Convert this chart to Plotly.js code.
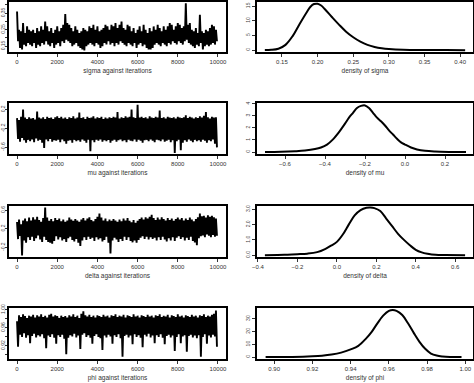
<!DOCTYPE html>
<html>
<head>
<meta charset="utf-8">
<script src="https://cdn.plot.ly/plotly-3.0.1.min.js"></script>
<style>html,body{margin:0;padding:0;background:#fff}#plot{width:474px;height:383px}</style>
</head>
<body>
<div id="plot"></div>
<script>
// ---- MCMC traces (one value every 50 iterations) ----
const iterStart = 0;
const iterStep = 50;
const sigmaTrace = [
0.36,0.18, 0.25,0.14, 0.24,0.13, 0.29,0.16, 0.23,0.15, 0.27,0.17, 0.25,0.16, 0.24,0.15, 0.25,0.17, 0.23,0.14,
0.26,0.16, 0.24,0.15, 0.27,0.17, 0.25,0.16, 0.30,0.18, 0.27,0.16, 0.24,0.15, 0.26,0.17, 0.23,0.14, 0.25,0.16,
0.27,0.17, 0.24,0.15, 0.26,0.18, 0.28,0.17, 0.345,0.19, 0.29,0.18, 0.28,0.17, 0.26,0.15, 0.24,0.16, 0.27,0.17,
0.25,0.15, 0.23,0.14, 0.24,0.13, 0.26,0.125, 0.25,0.15, 0.24,0.16, 0.27,0.17, 0.26,0.16, 0.28,0.15, 0.25,0.17,
0.27,0.16, 0.24,0.14, 0.25,0.15, 0.26,0.17, 0.28,0.16, 0.27,0.18, 0.25,0.16, 0.28,0.17, 0.27,0.15, 0.29,0.17,
0.26,0.16, 0.28,0.18, 0.30,0.17, 0.26,0.16, 0.25,0.15, 0.28,0.17, 0.27,0.16, 0.24,0.15, 0.26,0.17, 0.23,0.14,
0.25,0.16, 0.27,0.17, 0.24,0.15, 0.28,0.16, 0.25,0.14, 0.23,0.13, 0.26,0.13, 0.24,0.14, 0.27,0.16, 0.25,0.17,
0.28,0.16, 0.26,0.15, 0.24,0.17, 0.27,0.16, 0.25,0.15, 0.27,0.17, 0.29,0.16, 0.28,0.18, 0.25,0.17, 0.27,0.16,
0.29,0.18, 0.28,0.17, 0.26,0.16, 0.27,0.18, 0.41,0.19, 0.28,0.17, 0.29,0.16, 0.25,0.15, 0.24,0.14, 0.26,0.16,
0.23,0.15, 0.34,0.17, 0.24,0.13, 0.23,0.15, 0.25,0.16, 0.24,0.15, 0.26,0.16, 0.28,0.17, 0.27,0.16, 0.25,0.18
];
const muTrace = [
0.02,-0.42, -0.02,-0.48, 0.05,-0.40, 0.20,-0.45, 0.03,-0.50, 0.00,-0.44, 0.04,-0.47, 0.01,-0.43, 0.02,-0.49, -0.01,-0.41,
0.16,-0.46, 0.03,-0.44, 0.01,-0.50, 0.04,-0.61, 0.00,-0.43, 0.05,-0.47, 0.02,-0.42, 0.03,-0.48, 0.00,-0.45, 0.04,-0.46,
0.06,-0.44, 0.02,-0.49, 0.05,-0.43, 0.01,-0.47, 0.03,-0.52, 0.00,-0.46, 0.04,-0.45, 0.02,-0.50, 0.06,-0.44, 0.01,-0.47,
0.03,-0.45, 0.14,-0.48, 0.02,-0.43, 0.04,-0.46, 0.00,-0.50, 0.05,-0.44, 0.02,-0.68, 0.03,-0.45, 0.06,-0.49, 0.01,-0.44,
0.04,-0.46, 0.02,-0.43, 0.05,-0.48, 0.00,-0.45, 0.03,-0.47, 0.01,-0.44, 0.04,-0.50, 0.02,-0.46, 0.05,-0.44, 0.03,-0.48,
0.15,-0.45, 0.01,-0.43, 0.04,-0.47, 0.02,-0.45, 0.06,-0.49, 0.03,-0.44, 0.05,-0.46, 0.20,-0.47, 0.04,-0.43, 0.02,-0.48,
0.30,-0.44, 0.03,-0.46, 0.05,-0.50, 0.02,-0.45, 0.04,-0.44, 0.01,-0.47, 0.06,-0.43, 0.03,-0.46, 0.02,-0.49, 0.05,-0.44,
0.03,-0.45, 0.18,-0.47, 0.02,-0.43, 0.04,-0.48, 0.01,-0.46, 0.05,-0.44, 0.03,-0.49, 0.02,-0.45, 0.04,-0.72, 0.01,-0.47,
0.05,-0.44, 0.03,-0.66, 0.02,-0.50, 0.04,-0.45, 0.08,-0.48, 0.02,-0.43, 0.05,-0.46, 0.03,-0.49, 0.01,-0.44, 0.04,-0.47,
0.02,-0.45, 0.06,-0.48, 0.03,-0.44, 0.07,-0.46, 0.15,-0.50, 0.04,-0.45, 0.01,-0.47, 0.05,-0.43, 0.03,-0.52, 0.04,-0.60
];
const deltaTrace = [
0.35,-0.02, 0.40,0.05, 0.30,-0.37, 0.38,-0.05, 0.42,-0.10, 0.36,0.02, 0.44,-0.04, 0.38,0.03, 0.45,-0.06, 0.40,0.00,
0.46,0.06, 0.39,-0.03, 0.35,-0.08, 0.43,0.03, 0.655,-0.04, 0.44,-0.08, 0.37,-0.10, 0.41,-0.12, 0.36,-0.06, 0.43,0.04,
0.39,-0.03, 0.42,0.02, 0.36,-0.05, 0.40,-0.02, 0.35,-0.08, 0.38,0.00, 0.44,0.03, 0.40,-0.04, 0.37,-0.07, 0.41,-0.02,
0.38,-0.10, 0.35,-0.17, 0.40,-0.05, 0.43,0.02, 0.38,-0.04, 0.42,0.03, 0.45,-0.02, 0.39,0.01, 0.36,-0.06, 0.41,0.02,
0.46,-0.03, 0.53,0.00, 0.44,-0.07, 0.38,-0.04, 0.42,0.03, 0.36,-0.10, 0.40,-0.33, 0.37,-0.05, 0.41,0.01, 0.38,-0.03,
0.35,-0.08, 0.40,-0.02, 0.36,-0.06, 0.42,0.03, 0.38,-0.04, 0.43,0.02, 0.37,-0.06, 0.34,-0.09, 0.39,-0.05, 0.33,-0.10,
0.37,-0.04, 0.41,0.01, 0.44,0.04, 0.40,-0.02, 0.45,0.03, 0.42,-0.03, 0.46,0.02, 0.50,-0.02, 0.43,0.01, 0.39,-0.05,
0.44,0.02, 0.40,-0.04, 0.45,0.03, 0.41,-0.03, 0.38,-0.07, 0.43,0.00, 0.39,-0.05, 0.42,0.02, 0.37,-0.06, 0.41,0.01,
0.44,0.04, 0.40,-0.02, 0.43,0.02, 0.38,-0.05, 0.42,0.01, 0.39,-0.04, 0.44,0.03, 0.40,-0.06, 0.36,-0.09, 0.41,-0.15,
0.45,0.00, 0.53,0.04, 0.47,0.06, 0.48,0.02, 0.44,0.08, 0.49,0.05, 0.46,0.02, 0.48,0.07, 0.45,0.03, 0.42,0.05
];
const phiTrace = [
0.975,0.918, 0.988,0.945, 0.984,0.940, 0.990,0.948, 0.986,0.938, 0.982,0.944, 0.987,0.926, 0.985,0.942, 0.989,0.947, 0.983,0.939,
0.988,0.944, 0.985,0.941, 0.990,0.946, 0.984,0.937, 0.987,0.915, 0.983,0.943, 0.989,0.940, 0.991,0.946, 0.985,0.938, 0.988,0.925,
0.986,0.944, 0.982,0.940, 0.987,0.945, 0.984,0.936, 0.986,0.9015, 0.983,0.938, 0.988,0.944, 0.985,0.941, 0.990,0.947, 0.984,0.939,
0.987,0.943, 0.982,0.913, 0.991,0.945, 0.9965,0.948, 0.988,0.940, 0.985,0.944, 0.989,0.938, 0.984,0.925, 0.987,0.942, 0.983,0.946,
0.988,0.940, 0.986,0.937, 0.984,0.911, 0.989,0.943, 0.985,0.939, 0.987,0.945, 0.983,0.941, 0.988,0.925, 0.986,0.944, 0.990,0.940,
0.984,0.946, 0.987,0.937, 0.985,0.896, 0.989,0.942, 0.983,0.945, 0.988,0.939, 0.986,0.943, 0.984,0.924, 0.990,0.946, 0.985,0.940,
0.987,0.944, 0.983,0.938, 0.988,0.917, 0.986,0.945, 0.984,0.941, 0.989,0.947, 0.985,0.939, 0.987,0.943, 0.983,0.926, 0.988,0.944,
0.986,0.940, 0.990,0.946, 0.984,0.938, 0.987,0.924, 0.985,0.942, 0.989,0.945, 0.983,0.939, 0.988,0.943, 0.986,0.909, 0.984,0.940,
0.990,0.946, 0.985,0.926, 0.987,0.941, 0.983,0.944, 0.988,0.907, 0.986,0.942, 0.984,0.945, 0.989,0.939, 0.985,0.943, 0.987,0.937,
0.983,0.944, 0.988,0.896, 0.986,0.940, 0.990,0.946, 0.984,0.925, 0.987,0.943, 0.985,0.939, 0.989,0.945, 0.991,0.941, 0.9985,0.918
];

// ---- Posterior densities ----
const sigmaDensX = [0.126,0.135,0.145,0.155,0.165,0.175,0.185,0.19,0.195,0.20,0.205,0.21,0.22,0.23,0.24,0.25,0.26,0.27,0.28,0.29,0.30,0.32,0.35,0.38,0.407];
const sigmaDensY = [0.02,0.1,0.5,1.8,4.8,9.0,13.0,14.8,15.7,15.8,15.2,14.0,11.3,8.7,6.3,4.4,2.9,1.8,1.1,0.65,0.38,0.12,0.03,0.01,0.0];
const muDensX = [-0.70,-0.62,-0.55,-0.50,-0.45,-0.42,-0.39,-0.36,-0.33,-0.30,-0.28,-0.26,-0.24,-0.22,-0.20,-0.18,-0.16,-0.14,-0.12,-0.10,-0.08,-0.06,-0.04,-0.02,0.00,0.03,0.06,0.10,0.15,0.22,0.305];
const muDensY = [0.0,0.02,0.07,0.13,0.25,0.38,0.62,1.05,1.65,2.35,2.85,3.25,3.65,3.82,3.86,3.65,3.25,2.85,2.55,2.2,1.8,1.45,1.1,0.8,0.62,0.38,0.22,0.1,0.04,0.01,0.0];
const deltaDensX = [-0.365,-0.30,-0.25,-0.20,-0.15,-0.10,-0.06,-0.03,0.00,0.03,0.06,0.09,0.12,0.15,0.17,0.19,0.22,0.25,0.28,0.31,0.34,0.37,0.40,0.43,0.46,0.50,0.55,0.65];
const deltaDensY = [0.0,0.01,0.03,0.06,0.1,0.2,0.4,0.62,0.87,1.35,2.0,2.6,2.95,3.1,3.12,3.08,2.89,2.4,1.9,1.4,1.0,0.65,0.35,0.18,0.09,0.02,0.005,0.0];
const phiDensX = [0.8955,0.905,0.915,0.92,0.925,0.93,0.935,0.94,0.944,0.948,0.951,0.954,0.957,0.960,0.962,0.964,0.967,0.970,0.973,0.976,0.979,0.982,0.985,0.988,0.992,0.998];
const phiDensY = [0,0.1,0.3,0.6,1.1,2.0,3.5,6.0,8.8,14.5,19.8,26.5,32.5,36.3,37.0,36.3,33.0,26.5,19.0,12.0,6.5,2.8,1.2,0.5,0.1,0.0];

// ---- labels ----
const traceTitles = ['sigma against iterations','mu against iterations','delta against iterations','phi against iterations'];
const densTitles = ['density of sigma','density of mu','density of delta','density of phi'];
const iterTicks = [0,2000,4000,6000,8000,10000];
const sigmaYTicks = [0.15,0.20,0.25,0.30,0.35,0.40];
const sigmaYLabels = ['0.15','','0.25','','0.35',''];
const muYTicks = [-0.6,-0.2,0.2];
const muYLabels = ['-0.6','-0.2','0.2'];
const deltaYTicks = [-0.2,0.2,0.6];
const deltaYLabels = ['-0.2','0.2','0.6'];
const phiYTicks = [0.90,0.92,0.94,0.96,0.98,1.00];
const phiYLabels = ['','0.92','','0.96','','1.00'];

// ---- layout geometry (pixels of the 474x383 figure) ----
const W = 474, H = 383;
const leftBox = [9, 226], rightBox = [257, 473];
const rowBoxes = [[2,52],[103,154],[206,257],[308,359]];

const traceY = [sigmaTrace, muTrace, deltaTrace, phiTrace];
const traceYTicks = [sigmaYTicks, muYTicks, deltaYTicks, phiYTicks];
const traceYLabels = [sigmaYLabels, muYLabels, deltaYLabels, phiYLabels];
const densX = [sigmaDensX, muDensX, deltaDensX, phiDensX];
const densY = [sigmaDensY, muDensY, deltaDensY, phiDensY];
const traceYRange = [[0.115,0.418],[-0.74,0.34],[-0.405,0.69],[0.891,1.004]];
const densXRange = [[0.115,0.418],[-0.74,0.34],[-0.405,0.69],[0.891,1.004]];
const densXDtick = [0.05,0.2,0.2,0.02];
const densYRange = [[-0.63,16.4],[-0.16,4.06],[-0.12,3.22],[-1.5,38.5]];
const densYDtick = [5,1,1,10];

const font = {family:'Liberation Sans, Arial, sans-serif', size:6, color:'#333'};
const smallFont = {family:'Liberation Sans, Arial, sans-serif', size:5, color:'#444'};
function baseAxis(extra){
  return Object.assign({
    showline:true, mirror:true, linecolor:'#000', linewidth:1.8,
    ticks:'outside', ticklen:3, tickwidth:0.8, tickcolor:'#000',
    showgrid:false, zeroline:false, tickfont:font, fixedrange:true, automargin:false
  }, extra);
}

const data = [];
const layout = {
  width:W, height:H, margin:{l:0,r:0,t:0,b:0},
  paper_bgcolor:'#fff', plot_bgcolor:'#fff', showlegend:false, font:font
};

for (let r=0; r<4; r++){
  const yd = [1-rowBoxes[r][1]/H, 1-rowBoxes[r][0]/H];
  const iL = 2*r+1, iR = 2*r+2;
  const sx = n => n===1 ? '' : String(n);
  data.push({type:'scatter', mode:'lines', x0:iterStart, dx:iterStep, y:traceY[r],
    xaxis:'x'+sx(iL), yaxis:'y'+sx(iL), line:{color:'#000', width:1.9}, hoverinfo:'skip'});
  data.push({type:'scatter', mode:'lines', x:densX[r], y:densY[r], line:{shape:'spline', color:'#000', width:2}, hoverinfo:'skip',
    xaxis:'x'+sx(iR), yaxis:'y'+sx(iR)});
  layout['xaxis'+sx(iL)] = baseAxis({domain:[leftBox[0]/W, leftBox[1]/W], range:[-400,10400], anchor:'y'+sx(iL),
    tickmode:'array', tickvals:iterTicks, ticktext:iterTicks.map(String),
    title:{text:traceTitles[r], font:{family:font.family,size:6.5,color:'#333'}, standoff:4}});
  layout['yaxis'+sx(iL)] = baseAxis({domain:yd, range:traceYRange[r], anchor:'x'+sx(iL),
    tickmode:'array', tickvals:traceYTicks[r], ticktext:traceYLabels[r], tickangle:-90, ticklen:2,
    ticklabelstandoff:-2, tickfont:smallFont});
  layout['xaxis'+sx(iR)] = baseAxis({domain:[rightBox[0]/W, rightBox[1]/W], range:densXRange[r], anchor:'y'+sx(iR), dtick:densXDtick[r], tick0:0,
    title:{text:densTitles[r], font:{family:font.family,size:6.5,color:'#333'}, standoff:4}});
  layout['yaxis'+sx(iR)] = baseAxis({domain:yd, range:densYRange[r], anchor:'x'+sx(iR), dtick:densYDtick[r], tick0:0, tickangle:-90, tickfont:smallFont});
}
layout.xaxis4.tickformat = '.1f';
layout.xaxis6.tickformat = '.1f';
layout.xaxis8.tickformat = '.2f';
layout.xaxis2.tickformat = '.2f';
layout.yaxis6.tickformat = '.1f';

Plotly.newPlot('plot', data, layout, {staticPlot:true, displayModeBar:false});
</script>
</body>
</html>
